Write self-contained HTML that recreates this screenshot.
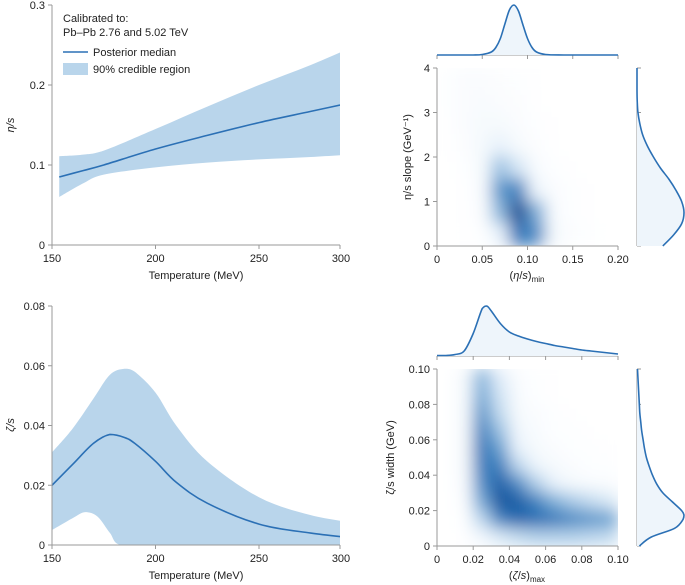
<!DOCTYPE html>
<html><head><meta charset="utf-8">
<style>
body{margin:0;background:#fff;}
svg{display:block;font-family:"Liberation Sans",sans-serif;}
text{fill:#222;font-size:11px;}
</style></head>
<body>
<svg id="fig" width="685" height="585" viewBox="0 0 685 585">
<defs>
<filter id="blur1" filterUnits="userSpaceOnUse" x="380" y="0" width="305" height="585"><feGaussianBlur stdDeviation="8"/></filter>
<clipPath id="clipTL"><rect x="52" y="0" width="288" height="246"/></clipPath>
<clipPath id="clipBL"><rect x="52" y="300" width="288" height="246"/></clipPath>
<clipPath id="clipTR"><rect x="437" y="68" width="181" height="178"/></clipPath>
<clipPath id="clipBR"><rect x="437" y="369" width="181" height="177"/></clipPath>
</defs>
<g id="root"></g>
</svg>
<script>
// ---- data: eta/s vs T ----
const etaT=[153.5,165,175,200,225,250,275,300];
const etaMed=[0.085,0.093,0.1,0.12,0.137,0.153,0.167,0.181];
const etaUp=[0.111,0.113,0.118,0.145,0.173,0.2,0.225,0.253];
const etaLo=[0.06,0.077,0.088,0.097,0.103,0.107,0.11,0.114];
// ---- data: zeta/s vs T ----
const zetaT=[150,160,170,178,185,190,200,210,225,250,275,300];
const zetaMed=[0.020,0.027,0.034,0.037,0.036,0.034,0.028,0.021,0.014,0.007,0.004,0.002];
const zetaUp=[0.031,0.039,0.049,0.057,0.059,0.058,0.051,0.040,0.028,0.016,0.010,0.007];
const zetaLoT=[150,160,166,172,178,183,200,300];
const zetaLo=[0.005,0.009,0.011,0.0095,0.004,0,0,0];
// ---- heatmap eta (rows from top y=4 to 0; cols x 0..0.2) ----
const etaHeat=[
[0.01,0.02,0.02,0.015,0.01,0.005,0,0,0,0],
[0.01,0.02,0.03,0.02,0.015,0.005,0,0,0,0],
[0.005,0.02,0.04,0.04,0.02,0.01,0.005,0,0,0],
[0.005,0.015,0.05,0.1,0.04,0.015,0.005,0,0,0],
[0,0.01,0.04,0.3,0.15,0.03,0.01,0.005,0,0],
[0,0.005,0.03,0.5,0.6,0.08,0.02,0.01,0.005,0],
[0,0.005,0.02,0.35,1.0,0.4,0.03,0.01,0.005,0],
[0,0.005,0.01,0.1,0.65,0.55,0.05,0.015,0.01,0]];
// ---- heatmap zeta (rows from top y=0.1 to 0; cols x 0..0.1) ----
const zetaHeat=[
[0,0.04,0.35,0.12,0.02,0.01,0.005,0,0,0],
[0,0.04,0.4,0.16,0.03,0.01,0.005,0,0,0],
[0,0.04,0.5,0.2,0.04,0.02,0.01,0.005,0,0],
[0,0.04,0.6,0.3,0.06,0.03,0.01,0.01,0.005,0],
[0,0.04,0.65,0.45,0.1,0.04,0.02,0.01,0.01,0.005],
[0,0.04,0.62,0.62,0.22,0.08,0.04,0.02,0.01,0.01],
[0,0.03,0.55,0.8,0.55,0.25,0.1,0.05,0.03,0.02],
[0,0.02,0.42,0.88,0.82,0.6,0.38,0.27,0.2,0.14],
[0,0.01,0.22,0.6,0.75,0.7,0.65,0.56,0.5,0.45],
[0,0.005,0.06,0.14,0.2,0.24,0.24,0.24,0.22,0.2]];
// ---- marginals ----
const etaMinX=[0,0.02,0.04,0.05,0.06,0.065,0.07,0.075,0.08,0.085,0.09,0.095,0.1,0.105,0.11,0.12,0.14,0.2];
const etaMinD=[0,0,0,0.01,0.06,0.15,0.33,0.62,0.9,1.0,0.88,0.6,0.33,0.15,0.06,0.01,0,0];
const slopeY=[0,0.25,0.5,0.75,1,1.25,1.5,1.75,2,2.25,2.5,2.75,3,3.25,3.5,4];
const slopeD=[0.55,0.78,0.95,1.0,0.95,0.83,0.68,0.5,0.35,0.22,0.12,0.06,0.02,0.005,0,0];
const zmaxX=[0,0.005,0.01,0.015,0.02,0.025,0.0275,0.03,0.035,0.04,0.045,0.05,0.055,0.06,0.065,0.07,0.075,0.08,0.085,0.09,0.095,0.1];
const zmaxD=[0.01,0.01,0.03,0.1,0.45,0.95,1.0,0.9,0.65,0.48,0.4,0.34,0.29,0.25,0.21,0.18,0.15,0.12,0.1,0.08,0.06,0.04];
const zwY=[0,0.005,0.01,0.015,0.0175,0.02,0.025,0.03,0.035,0.04,0.045,0.05,0.055,0.06,0.065,0.07,0.075,0.08,0.085,0.09,0.095,0.1];
const zwD=[0.05,0.3,0.8,0.98,1.0,0.95,0.75,0.55,0.42,0.33,0.26,0.2,0.16,0.13,0.1,0.08,0.06,0.05,0.04,0.03,0.02,0.01];

const NS="http://www.w3.org/2000/svg";
const root=document.getElementById('root');
function mk(tag,attrs,parent){const e=document.createElementNS(NS,tag);for(const k in attrs)e.setAttribute(k,attrs[k]);(parent||root).appendChild(e);return e;}
function txt(s,x,y,anchor,parent){const t=mk('text',{x:x,y:y,'text-anchor':anchor||'middle'},parent);t.textContent=s;return t;}
function cl(v,a,b){const lo=Math.min(a,b),hi=Math.max(a,b);return Math.max(lo,Math.min(hi,v));}
function smooth(pts){let d='M'+pts[0][0]+','+pts[0][1];for(let i=0;i<pts.length-1;i++){const p0=pts[Math.max(0,i-1)],p1=pts[i],p2=pts[i+1],p3=pts[Math.min(pts.length-1,i+2)];
const c1=[cl(p1[0]+(p2[0]-p0[0])/6,p1[0],p2[0]),cl(p1[1]+(p2[1]-p0[1])/6,p1[1],p2[1])],c2=[cl(p2[0]-(p3[0]-p1[0])/6,p1[0],p2[0]),cl(p2[1]-(p3[1]-p1[1])/6,p1[1],p2[1])];
d+=' C'+c1[0]+','+c1[1]+' '+c2[0]+','+c2[1]+' '+p2[0]+','+p2[1];}return d;}
function lin(d0,d1,r0,r1){return v=>r0+(v-d0)/(d1-d0)*(r1-r0);}
const AX='#999', BAND='#b9d5eb', LINE='#2b70b5';
function color(v){v=Math.max(0,Math.min(1,v));
const stops=[[0,[255,255,255]],[0.1,[232,242,251]],[0.4,[120,172,215]],[0.7,[38,110,180]],[1,[8,70,145]]];
for(let i=0;i<stops.length-1;i++){const [a,ca]=stops[i],[b,cb]=stops[i+1];if(v<=b){const f=(v-a)/(b-a);return 'rgb('+ca.map((c,j)=>Math.round(c+(cb[j]-c)*f)).join(',')+')';}}
return 'rgb(8,70,145)';}

// ===== Top-left: eta/s =====
const tx=lin(150,250,52,259);
const ty1=lin(0,0.3,245,5);
let g=mk('g',{'clip-path':'url(#clipTL)'});

let up=etaT.map((t,i)=>[tx(t),ty1(etaUp[i])]), lo=etaT.map((t,i)=>[tx(t),ty1(etaLo[i])]).reverse();
let p=mk('path',{d:smooth(up)+' L'+lo[0][0]+','+lo[0][1]+smooth(lo).replace(/^M[^ ]+/,'')+' Z',fill:BAND},g);

p=mk('path',{d:smooth(etaT.map((t,i)=>[tx(t),ty1(etaMed[i])])),fill:'none',stroke:LINE,'stroke-width':1.6},g);

function leftAxes(yScale,yTicks,yLabels,y0,yTop,ylab,yLabY,xLabY){
 const a=mk('g',{});
 mk('line',{x1:52,y1:yTop,x2:52,y2:y0,stroke:AX},a);
 mk('line',{x1:52,y1:y0,x2:340,y2:y0,stroke:AX},a);
 yTicks.forEach((v,i)=>{const y=yScale(v);mk('line',{x1:48,y1:y,x2:52,y2:y,stroke:AX},a);txt(yLabels[i],45,y+4,'end',a);});
 [150,200,250].forEach(v=>{mk('line',{x1:tx(v),y1:y0,x2:tx(v),y2:y0+4,stroke:AX},a);txt(String(v),tx(v),y0+17,'middle',a);});
 mk('line',{x1:340,y1:y0,x2:340,y2:y0+4,stroke:AX},a);txt('300',341,y0+17,'middle',a);
 const xl=txt('Temperature (MeV)',196,xLabY,'middle',a);
 const yl=txt(ylab,0,0,'middle',a);yl.setAttribute('transform','translate(14,'+yLabY+') rotate(-90)');yl.setAttribute('font-style','italic');
 
}
leftAxes(ty1,[0,0.1,0.2,0.3],['0','0.1','0.2','0.3'],245,5,'η/s',125,279);
// legend
const lg=mk('g',{});
txt('Calibrated to:',63,22,'start',lg);txt('Pb–Pb 2.76 and 5.02 TeV',63,36,'start',lg);
mk('line',{x1:63,y1:52,x2:88,y2:52,stroke:LINE,'stroke-width':1.6},lg);txt('Posterior median',93,56,'start',lg);
mk('rect',{x:63,y:63,width:25,height:12,fill:BAND},lg);txt('90% credible region',93,73,'start',lg);

// ===== Bottom-left: zeta/s =====
const ty2=lin(0,0.08,545,306);
g=mk('g',{'clip-path':'url(#clipBL)'});

up=zetaT.map((t,i)=>[tx(t),ty2(zetaUp[i])]);lo=zetaLoT.map((t,i)=>[tx(t),ty2(zetaLo[i])]).reverse();
p=mk('path',{d:smooth(up)+' L'+lo[0][0]+','+lo[0][1]+smooth(lo).replace(/^M[^ ]+/,'')+' Z',fill:BAND},g);

p=mk('path',{d:smooth(zetaT.map((t,i)=>[tx(t),ty2(zetaMed[i])])),fill:'none',stroke:LINE,'stroke-width':1.6},g);

leftAxes(ty2,[0,0.02,0.04,0.06,0.08],['0','0.02','0.04','0.06','0.08'],545,306,'ζ/s',425,579);

// ===== Right panels =====
function rightPanel(o){
 const xs=lin(o.x0,o.x1,437,618), ys=lin(o.y0,o.y1,o.py0,o.py1);
 const hg=mk('g',{'clip-path':'url('+o.clip+')'});
 
 const bg=mk('g',{filter:'url(#blur1)'},hg);
 const rows=o.heat.length, cols=o.heat[0].length;
 const dx=(o.x1-o.x0)/cols, dy=(o.y1-o.y0)/rows;
 o.heat.forEach((row,r)=>row.forEach((v,c)=>{
  const xa=xs(o.x0+c*dx), xb=xs(o.x0+(c+1)*dx), ya=ys(o.y1-r*dy), yb=ys(o.y1-(r+1)*dy);
  const cell=mk('rect',{x:xa-0.5,y:ya-0.5,width:xb-xa+1,height:yb-ya+1,fill:color(v)},bg);
  
  
 }));
 const a=mk('g',{});
 mk('line',{x1:437,y1:o.py1,x2:437,y2:o.py0,stroke:AX},a);
 mk('line',{x1:437,y1:o.py0,x2:618,y2:o.py0,stroke:AX},a);
 o.yt.forEach((v,i)=>{const y=ys(v);mk('line',{x1:433,y1:y,x2:437,y2:y,stroke:AX},a);txt(o.ytl[i],430,y+4,'end',a);
   mk('line',{x1:637,y1:y,x2:641,y2:y,stroke:AX},a);});
 o.xt.forEach((v,i)=>{const x=xs(v);mk('line',{x1:x,y1:o.py0,x2:x,y2:o.py0+4,stroke:AX},a);txt(o.xtl[i],x,o.py0+17,'middle',a);
   mk('line',{x1:x,y1:o.mb,x2:x,y2:o.mb+4,stroke:AX},a);});
 mk('line',{x1:437,y1:o.mb,x2:618,y2:o.mb,stroke:AX},a);
 mk('line',{x1:637,y1:o.py1,x2:637,y2:o.py0,stroke:AX},a);
 const yl=txt(o.ylab,0,0,'middle',a);yl.setAttribute('transform','translate('+o.ylx+','+(o.py0+o.py1)/2+') rotate(-90)');
 
 const xl=mk('text',{x:527,y:o.py0+33,'text-anchor':'middle'},a);xl.innerHTML=o.xlab;
 
 // top marginal
 const mh=lin(0,1,o.mb,o.mb-50);
 const tp=o.mx.map((v,i)=>[xs(v),mh(o.md[i])]);
 let m=mk('path',{d:smooth(tp)+' L618,'+o.mb+' L437,'+o.mb+' Z',fill:'#eef5fb'});
 
 m=mk('path',{d:smooth(tp),fill:'none',stroke:LINE,'stroke-width':1.6});
 
 // right marginal
 const mw=lin(0,1,637,684);
 const rp=o.ry.map((v,i)=>[mw(o.rd[i]),ys(v)]);
 m=mk('path',{d:smooth(rp)+' L637,'+ys(o.ry[o.ry.length-1])+' L637,'+ys(o.ry[0])+' Z',fill:'#eef5fb'});
 
 m=mk('path',{d:smooth(rp),fill:'none',stroke:LINE,'stroke-width':1.6});
 
}
rightPanel({name:'eta',x0:0,x1:0.2,y0:0,y1:4,py0:246,py1:68,clip:'#clipTR',heat:etaHeat,
 yt:[0,1,2,3,4],ytl:['0','1','2','3','4'],xt:[0,0.05,0.1,0.15,0.2],xtl:['0','0.05','0.10','0.15','0.20'],
 mb:55,mx:etaMinX,md:etaMinD,ry:slopeY,rd:slopeD,ylab:'η/s slope (GeV⁻¹)',ylx:411,
 xlab:'(<tspan font-style="italic">η</tspan>/<tspan font-style="italic">s</tspan>)<tspan font-size="8" dy="3">min</tspan>'});
rightPanel({name:'zeta',x0:0,x1:0.1,y0:0,y1:0.1,py0:546,py1:369,clip:'#clipBR',heat:zetaHeat,
 yt:[0,0.02,0.04,0.06,0.08,0.1],ytl:['0','0.02','0.04','0.06','0.08','0.10'],xt:[0,0.02,0.04,0.06,0.08,0.1],xtl:['0','0.02','0.04','0.06','0.08','0.10'],
 mb:356,mx:zmaxX,md:zmaxD,ry:zwY,rd:zwD,ylab:'ζ/s width (GeV)',ylx:394,
 xlab:'(<tspan font-style="italic">ζ</tspan>/<tspan font-style="italic">s</tspan>)<tspan font-size="8" dy="3">max</tspan>'});
</script>
</body></html>
